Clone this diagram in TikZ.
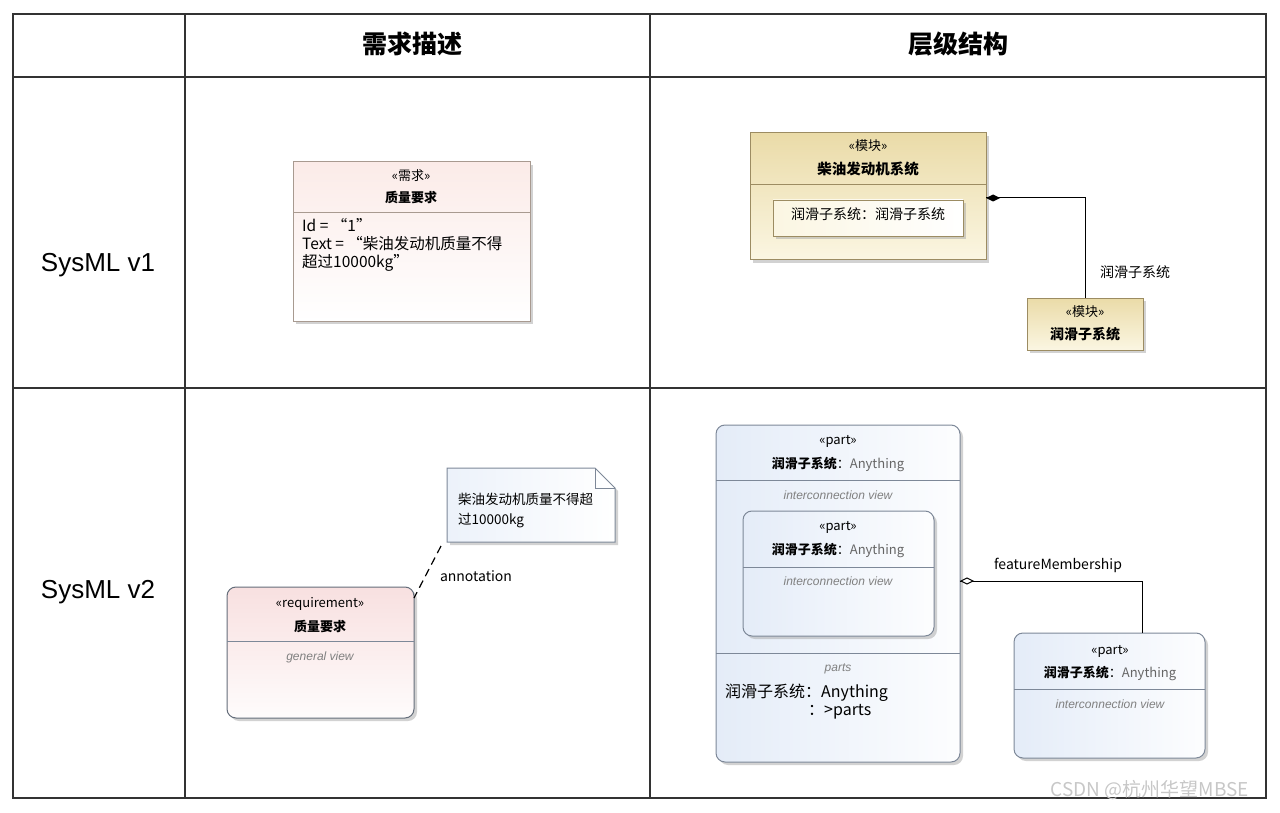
\documentclass[tikz,border=0pt]{standalone}
\usepackage{fontspec}
\setmainfont{Noto Sans CJK SC}
\newfontfamily\lat{Liberation Sans}
\usetikzlibrary{shadows}
\definecolor{tan}{HTML}{EADBA8}
\definecolor{tanlt}{HTML}{FBF6E2}
\definecolor{tanbd}{HTML}{9C8C62}
\definecolor{pinklt}{HTML}{FBEBE8}
\definecolor{pinkbd}{HTML}{A89A90}
\definecolor{bluelt}{HTML}{E4ECF8}
\definecolor{bluebd}{HTML}{7D8898}
\definecolor{rpink}{HTML}{F8E0E0}
\tikzset{
  sh/.style={drop shadow={shadow xshift=3pt,shadow yshift=-3pt,fill=black!35}},
  blockbox/.style={draw=tanbd,line width=1pt,top color=tan,bottom color=tanlt,sh},
  reqbox/.style={draw=pinkbd,line width=1pt,top color=pinklt,bottom color=white,sh},
  partbox/.style={draw=bluebd,line width=1pt,rounded corners=9pt,left color=bluelt,right color=white!92!bluelt,sh},
  rreq/.style={draw=bluebd!80!black,line width=1pt,rounded corners=9pt,top color=rpink,bottom color=white!90!rpink,sh},
  t/.style={inner sep=0pt,font=\fontsize{13}{15}\selectfont},
  tb/.style={t,font=\fontsize{13}{15}\selectfont\bfseries},
  iv/.style={inner sep=0pt,font=\lat\fontsize{12}{14}\selectfont\itshape,text=gray},
  grid/.style={line width=2pt,draw=black!80},
}
\begin{document}
\begin{tikzpicture}[x=1pt,y=-1pt]
\useasboundingbox (0,0) rectangle (1280,813);
% table
\draw[grid] (13,14) rectangle (1266,798);
\draw[grid] (185,14) -- (185,798) (650,14) -- (650,798) (13,77) -- (1266,77) (13,388) -- (1266,388);
\node[font=\fontsize{25}{28}\selectfont\bfseries] (h1) at (412,44) {需求描述};
\node[font=\fontsize{25}{28}\selectfont\bfseries] (h2) at (958,44) {层级结构};
\node[font=\lat\fontsize{26}{28}\selectfont] (r1) at (98,265) {SysML v1};
\node[font=\lat\fontsize{26}{28}\selectfont] (r2) at (98,592) {SysML v2};
% v1 requirement
\path[reqbox] (293,162) rectangle (530,321);
\draw[pinkbd,line width=1pt] (293,213) -- (530,213);
\node[t] (q1) at (411,176) {«需求»};
\node[tb] (q2) at (411,198) {质量要求};
\node[t,anchor=north west,align=left,font=\fontsize{15.5}{18}\selectfont] (q3) at (302,218) {Id = “1”\\Text = “柴油发动机质量不得\\超过10000kg”};
% v1 block
\path[blockbox] (750,133) rectangle (986,260);
\draw[tanbd,line width=1pt] (750,185) -- (986,185);
\node[t] (b1) at (868,146) {«模块»};
\node[tb,font=\fontsize{14.5}{16}\selectfont\bfseries] (b2) at (868,169) {柴油发动机系统};
\path[draw=tanbd,line width=0.8pt,left color=tanlt,right color=white,sh] (773,200) rectangle (963,236);
\node[t,font=\fontsize{14}{16}\selectfont] (bp) at (868,214) {润滑子系统：润滑子系统};
\path[blockbox] (1027,298) rectangle (1143,350);
\node[t] (s1) at (1085,312) {«模块»};
\node[tb,font=\fontsize{14}{16}\selectfont\bfseries] (s2) at (1085,334) {润滑子系统};
\coordinate (ca) at (986,198);
\coordinate (cb) at (1085,298);
\draw[line width=1pt] (cb) |- (ca);
\fill (986,198) -- (993,194.5) -- (1000,198) -- (993,201.5) -- cycle;
\node[t,font=\fontsize{14}{16}\selectfont] (cl) at (1135,272) {润滑子系统};
% v2 requirement
\path[rreq] (227,587) rectangle (414,718);
\draw[bluebd,line width=1pt] (227,641) -- (414,641);
\node[t] (rq1) at (320,604) {«requirement»};
\node[tb] (rq2) at (320,626) {质量要求};
\node[iv] (rq3) at (320,657) {general view};
% note
\path[draw=bluebd,line width=1pt,left color=bluelt!70,right color=white,sh] (447,468) -- (595,468) -- (615,488) -- (615,542) -- (447,542) -- cycle;
\draw[bluebd,line width=0.8pt] (595,468) -- (595,488) -- (615,488);
\node[t,anchor=west,align=left,font=\fontsize{13.5}{20}\selectfont] (nt) at (458,510) {柴油发动机质量不得超\\过10000kg};
\coordinate (na) at (441,546);
\coordinate (nb) at (414,598);
\draw[line width=1.2pt,dash pattern=on 8pt off 5pt] (na) -- (nb);
\node[t,font=\fontsize{14}{16}\selectfont] (an) at (476,576) {annotation};
% v2 big part
\path[partbox] (716,425) rectangle (960,762);
\draw[bluebd,line width=1pt] (716,480) -- (960,480) (716,653) -- (960,653);
\node[t] (p1) at (838,441) {«part»};
\node[t] (p2) at (838,464) {\textbf{润滑子系统}：\textcolor{black!60}{Anything}};
\node[iv] (p3) at (838,495) {interconnection view};
\path[partbox] (743,511) rectangle (934,636);
\draw[bluebd,line width=1pt] (743,567) -- (934,567);
\node[t] (i1) at (838,527) {«part»};
\node[t] (i2) at (838,550) {\textbf{润滑子系统}：\textcolor{black!60}{Anything}};
\node[iv] (i3) at (838,581) {interconnection view};
\node[iv] (pp) at (838,669) {parts};
\node[t,anchor=west,font=\fontsize{16}{18}\selectfont] (pa) at (725,693) {润滑子系统：Anything};
\node[t,anchor=west,font=\fontsize{16}{18}\selectfont] (pb) at (808,712) {：>parts};
% small part
\path[partbox] (1014,633) rectangle (1205,758);
\draw[bluebd,line width=1pt] (1014,689) -- (1205,689);
\node[t] (m1) at (1110,651) {«part»};
\node[t] (m2) at (1110,673) {\textbf{润滑子系统}：\textcolor{black!60}{Anything}};
\node[iv] (m3) at (1110,704) {interconnection view};
\coordinate (fa) at (960,581);
\coordinate (fb) at (1142,633);
\draw[line width=1pt] (fb) |- (fa);
\filldraw[fill=white,line width=1pt] (961,581) -- (967,578) -- (973,581) -- (967,584) -- cycle;
\node[t,font=\fontsize{14}{16}\selectfont] (fl) at (1058,565) {featureMembership};
\node[t,font=\fontsize{19}{21}\selectfont,text=black!22] (wm) at (1150,790) {CSDN @杭州华望MBSE};
\end{tikzpicture}
\end{document}
